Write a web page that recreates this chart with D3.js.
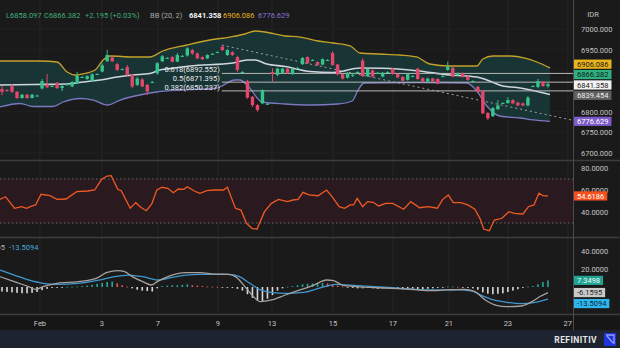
<!DOCTYPE html>
<html><head><meta charset="utf-8">
<script src="https://cdn.jsdelivr.net/npm/d3@7"></script>
<style>
html,body{margin:0;padding:0;background:#181818;overflow:hidden;}
svg{display:block;}
text{font-family:Roboto,"Noto Sans",sans-serif;}
</style></head><body>
<svg id="c" width="620" height="348"></svg>
<script>
// ---------- DATA ----------
const candleOpen = [6855,6852,6862,6848,6833,6841,6833,6839,6856,6866,
6862,6870,6857,6866,6861,6869,6884,6879,6874,6891,
6897,6922,6931,6915,6903,6908,6889,6865,6878,6865,
6872,6893,6922,6930,6932,6921,6935,6936,6949,6941,
6932,6929,6940,6944,6957,6937,6944,6932,6896,6874,
6836,6816,6820,6819,6896,6889,6894,6904,6891,6906,
6915,6932,6925,6920,6914,6925,6942,6914,6891,6882,
6889,6896,6924,6886,6900,6894,6885,6896,6904,6891,
6884,6877,6886,6904,6881,6873,6880,6879,6886,6901,
6906,6888,6893,6885,6874,6860,6850,6797,6789,6806,
6821,6821,6828,6822,6820,6815,6862,6860,6872,6862];
const candleHigh = [6862,6855,6867,6850,6843,6843,6843,6841,6879,6891,
6864,6872,6864,6868,6874,6896,6886,6888,6893,6893,
6917,6949,6934,6918,6905,6913,6891,6884,6881,6867,
6874,6920,6937,6932,6935,6942,6937,6956,6952,6943,
6934,6939,6942,6946,6961,6952,6946,6935,6898,6877,
6838,6818,6854,6821,6905,6906,6906,6906,6905,6908,
6932,6934,6927,6922,6929,6927,6946,6916,6893,6896,
6894,6898,6929,6905,6902,6896,6896,6898,6906,6893,
6886,6893,6888,6906,6883,6882,6882,6881,6888,6921,
6908,6895,6895,6887,6876,6862,6852,6799,6811,6828,
6823,6835,6830,6824,6822,6838,6864,6879,6874,6870];
const candleLow = [6840,6848,6845,6831,6831,6831,6832,6837,6854,6857,
6860,6855,6850,6864,6859,6867,6882,6877,6872,6889,
6895,6920,6920,6898,6901,6886,6857,6862,6859,6840,
6870,6889,6920,6928,6919,6920,6933,6933,6937,6927,
6925,6927,6938,6942,6947,6935,6935,6896,6894,6831,
6811,6800,6818,6817,6872,6886,6892,6891,6889,6904,
6913,6915,6923,6911,6912,6923,6911,6888,6878,6880,
6884,6894,6884,6884,6883,6892,6883,6894,6889,6881,
6873,6875,6884,6877,6871,6871,6872,6866,6884,6899,
6883,6886,6882,6875,6872,6846,6794,6780,6787,6804,
6819,6819,6818,6813,6813,6813,6860,6857,6860,6858.097];
const candleClose = [6848,6851,6848,6833,6841,6833,6841,6839,6874,6859,
6862,6857,6862,6866,6872,6887,6884,6886,6890,6891,
6912,6937,6922,6901,6903,6889,6861,6880,6861,6849,
6872,6917,6934,6930,6921,6937,6935,6953,6941,6929,
6927,6937,6940,6944,6949,6949,6937,6901,6896,6834,
6816,6804,6852,6819,6891,6904,6904,6893,6903,6906,
6930,6917,6925,6913,6927,6925,6913,6890,6880,6894,
6889,6896,6886,6903,6885,6894,6894,6896,6891,6883,
6875,6891,6886,6879,6873,6880,6874,6868,6886,6909,
6885,6893,6884,6877,6874,6848,6796,6784,6809,6815,
6821,6828,6820,6815,6815,6834,6862,6874,6862,6866.382];

// Bollinger bands: [slot, price]
const bbUpper = [[-0.4,6922.6],[7.6,6922.6],[11.0,6920.2],[13.0,6896.0],[14.6,6888.7],[16.0,6891.1],[18.6,6900.8],[20.2,6925.0],[21.6,6934.7],[26.1,6932.3],[29.5,6932.3],[32.1,6946.8],[36.9,6961.3],[41.5,6973.4],[45.5,6980.6],[48.5,6987.9],[50.5,6995.2],[52.5,6992.7],[56.5,6983.1],[59.5,6980.6],[63.1,6971.0],[66.1,6966.1],[69.5,6958.9],[71.5,6941.9],[75.4,6939.5],[79.4,6937.1],[82.8,6932.3],[85.4,6915.3],[89.4,6910.5],[94.8,6910.5],[96.0,6927.4],[98.0,6934.7],[101.4,6934.7],[104.4,6929.8],[106.8,6920.2],[109.4,6906.086]];
const bbMiddle = [[-0.4,6864.5],[6.2,6865.7],[13.0,6866.9],[16.2,6871.8],[19.6,6876.6],[23.0,6883.9],[26.1,6888.7],[29.5,6892.3],[31.5,6900.8],[32.9,6903.2],[37.5,6910.5],[46.1,6917.7],[48.9,6925.0],[50.5,6925.0],[52.9,6915.3],[56.5,6909.3],[61.5,6897.2],[66.1,6894.8],[71.5,6905.6],[76.0,6904.9],[82.8,6899.1],[89.4,6888.7],[94.8,6883.9],[96.8,6876.6],[100.0,6862.1],[102.8,6858.5],[109.4,6841.358]];
const bbLower = [[-0.4,6811.3],[3.6,6819.8],[6.2,6812.5],[10.2,6812.5],[12.2,6823.4],[15.6,6831.8],[18.2,6828.2],[21.0,6816.1],[23.6,6828.2],[27.5,6840.3],[30.9,6847.6],[36.1,6852.4],[42.9,6857.3],[46.5,6876.6],[47.5,6876.6],[49.1,6862.1],[51.9,6823.4],[56.5,6818.6],[61.5,6816.1],[67.1,6818.6],[69.9,6825.8],[71.1,6852.4],[72.3,6869.4],[82.8,6870.1],[92.8,6869.4],[94.8,6850.0],[96.8,6813.7],[99.4,6789.5],[103.4,6784.7],[106.0,6780.0],[109.4,6776.629]];

// Fibonacci retracement levels
const fibRatios = ["0.618","0.5","0.382"];
const fibValues = [6892.552, 6871.395, 6850.237];
const fibStartSlot = 43.9;
// dashed trend line [slot, price]
const trendLine = [[43.9,6961],[114,6779]];

// price axis
const priceTicks = [7000,6950,6800,6750,6700];
const priceGrid = [7000,6950,6900,6850,6800,6750,6700];
const lastValues = [6906.086, 6866.382, 6841.358, 6839.454, 6776.629];
const lastNames = ["upper","close","middle","prev","lower"];

// RSI [slot, value]
const rsiPoints = [[-0.4,51.5],[0.7,53.9],[2.5,43.4],[3.9,44.8],[4.9,43.4],[6.0,45.5],[6.7,46.4],[7.8,56.1],[9.6,54.8],[11.0,51.5],[12.8,51.8],[14.9,58.5],[17.1,59.1],[18.5,60.0],[19.9,69.7],[21.0,72.7],[21.8,73.0],[23.1,60.6],[23.8,59.4],[25.6,43.4],[26.7,48.5],[27.7,44.3],[28.8,41.2],[29.9,47.3],[30.9,60.0],[32.0,62.5],[33.1,61.5],[34.2,57.5],[35.2,60.9],[36.3,60.6],[37.0,63.0],[38.4,59.1],[39.5,57.0],[40.9,59.4],[42.4,60.0],[44.2,60.0],[45.0,62.5],[46.6,43.4],[47.7,41.8],[48.8,29.7],[49.9,25.2],[50.9,24.3],[52.4,40.3],[53.8,47.9],[55.2,51.5],[57.0,49.4],[58.1,50.9],[59.1,51.5],[60.1,57.9],[61.3,55.5],[63.1,54.8],[64.8,60.0],[65.9,53.9],[67.3,44.8],[68.4,43.4],[69.5,46.4],[70.2,46.4],[70.9,52.4],[72.0,44.8],[73.0,49.4],[74.1,48.8],[75.2,45.5],[76.6,47.9],[78.0,47.9],[80.2,42.5],[81.6,49.4],[83.4,43.9],[85.1,44.8],[86.9,43.4],[88.0,51.5],[89.1,55.5],[90.1,48.5],[91.6,48.5],[93.0,46.4],[94.4,42.5],[95.5,33.4],[96.2,24.3],[97.3,23.0],[98.3,32.7],[99.8,34.3],[101.2,40.3],[102.3,38.8],[104.0,38.2],[105.1,44.8],[106.2,46.4],[107.2,57.0],[108.1,54.6],[109.0,54.6186]];
const rsiTicks = [80,60,40];
const rsiBand = [70,30];

// MACD [slot, value]
const macdLine = [[-0.4,11.5],[2.45,5.9],[5.3,0.4],[6.7,-2.6],[8.15,0.4],[11.0,4.1],[15.3,5.9],[18.8,9.6],[21.0,16.3],[23.1,18.1],[24.5,17.0],[26.0,11.5],[28.1,5.9],[29.9,2.2],[31.0,5.9],[33.1,11.5],[36.7,15.9],[39.5,15.9],[42.4,14.4],[45.2,14.1],[46.6,11.5],[48.8,-1.5],[50.2,-10.7],[51.6,-16.3],[53.8,-14.4],[56.6,-8.9],[59.5,-3.3],[62.3,2.2],[64.8,7.8],[66.2,7.0],[68.0,2.2],[70.9,0.4],[74.4,-0.7],[78.0,-1.5],[81.6,-2.6],[85.1,-4.1],[88.7,-3.3],[92.3,-2.6],[94.4,-5.2],[96.5,-14.5],[98.7,-20.5],[100.8,-21.9],[103.7,-21.1],[105.8,-16.3],[107.6,-10.0],[109.0,-6.1595]];
const signalLine = [[-0.4,18.9],[2.45,13.3],[5.3,7.8],[8.15,4.1],[11.0,3.0],[15.3,4.1],[19.6,7.8],[22.4,11.5],[25.3,13.3],[28.1,11.5],[31.0,7.8],[33.8,10.4],[36.7,13.3],[39.5,14.1],[45.2,14.1],[47.4,11.5],[49.5,4.1],[51.6,-3.3],[53.8,-5.9],[56.6,-7.0],[60.2,-5.9],[63.7,-0.7],[66.6,3.0],[70.9,1.5],[78.0,-0.7],[85.1,-3.3],[90.8,-3.3],[93.7,-4.4],[95.8,-9.5],[98.0,-14.0],[100.8,-17.0],[103.7,-18.5],[106.5,-17.0],[109.0,-13.5094]];
const macdHist = [-5,-5.5,-6,-6.5,-7,-7,-6.5,-5.5,-3.5,-2,
-1,-0.5,-0.3,0.2,0.3,0.6,1,1.5,2.5,3.5,
4.5,5.5,6,4,2,0.5,-1.5,-3,-4,-4.5,
-5,-1.5,1,1.5,2,2,2.5,3,2,1.5,
1,0.5,0.3,0.2,-0.3,-0.5,-1,-2,-4,-8,
-12,-15,-16,-13,-9,-4,-1.5,0.3,1,2,
3,3.5,4,4.5,4.5,4,3,1.5,0.5,-0.5,
-1,-1.5,-1.5,-1,-1.5,-2,-1.5,-1.5,-2,-2,
-2.5,-2,-2,-2.5,-2.5,-2,-1.5,-1,-0.5,0.5,
0.5,0.3,-0.5,-1,-1.5,-3,-6,-7.5,-8,-7.5,
-7,-5.5,-4,-2.5,-1,0.5,1,3,5.5,7.3498];
const macdTicks = [40,20];
const macdLast = [7.3498, -6.1595, -13.5094];

// x axis
const xTickLabels = ["Feb","3","7","9","13","15","17","21","23","27"];
const xTickSlots = [7.58,19.96,31.14,43.11,53.89,66.07,78.04,89.22,101.0,112.97];

// ---------- CHART ----------
const svg = d3.select('#c');
const AX = 573;
const x = d3.scaleLinear().domain([-0.4,114]).range([0,AX]);
const yP = d3.scaleLinear().domain([6700,7000]).range([153,29]);
const yR = d3.scaleLinear().domain([40,80]).range([212,168]);
const yM = d3.scaleLinear().domain([0,40]).range([287,251]);

svg.append('rect').attr('width',620).attr('height',348).attr('fill','#1a1a1a');
svg.append('rect').attr('y',315).attr('width',620).attr('height',15).attr('fill','#161616');
svg.append('rect').attr('y',330).attr('width',620).attr('height',18).attr('fill','#1e2330');

const defs = svg.append('defs');
[['cm',0,160],['cr',161,76],['cd',238,76]].forEach(([id,y0,h])=>{
  defs.append('clipPath').attr('id',id).append('rect').attr('x',0).attr('y',y0).attr('width',AX).attr('height',h);
});

// vertical grid
svg.append('g').selectAll('line').data(xTickSlots).join('line')
  .attr('x1',d=>x(d)).attr('x2',d=>x(d)).attr('y1',0).attr('y2',314)
  .attr('stroke','#262626').attr('stroke-width',1);

// main panel
const gM = svg.append('g').attr('clip-path','url(#cm)');
gM.selectAll('line.hg').data(priceGrid).join('line').attr('class','hg')
  .attr('x1',0).attr('x2',AX).attr('y1',d=>yP(d)).attr('y2',d=>yP(d)).attr('stroke','#212121');

const lineP = d3.line().x(d=>x(d[0])).y(d=>yP(d[1])).curve(d3.curveMonotoneX);
const lineLin = d3.line().x(d=>x(d[0])).y(d=>yP(d[1]));
const fillPts = bbUpper.concat(bbLower.slice().reverse());
gM.append('path').attr('d', lineLin(fillPts)+'Z').attr('fill','#183434');
gM.append('path').attr('d',lineP(bbUpper)).attr('fill','none').attr('stroke','#c4a22a').attr('stroke-width',1.3);
gM.append('path').attr('d',lineP(bbLower)).attr('fill','none').attr('stroke','#7c78c0').attr('stroke-width',1.3);
gM.append('path').attr('d',lineP(bbMiddle)).attr('fill','none').attr('stroke','#cfd6de').attr('stroke-width',1.6);

// fib lines
fibValues.forEach((v,i)=>{
  gM.append('line').attr('x1',x(fibStartSlot)).attr('x2',AX).attr('y1',yP(v)).attr('y2',yP(v))
    .attr('stroke','#b8b8b8').attr('stroke-width',1);
  gM.append('text').attr('x',x(fibStartSlot)-2).attr('y',yP(v)-1).attr('text-anchor','end')
    .attr('font-size',7.5).attr('fill','#ececec').text(fibRatios[i]+'('+v.toFixed(3)+')');
});
// trend line
gM.append('path').attr('d',lineLin(trendLine)).attr('stroke','#a0a0a0').attr('stroke-width',1)
  .attr('stroke-dasharray','2,3').attr('fill','none');

// candles
const N = candleOpen.length;
const up = '#35c48b', dn = '#e3486c';
const col = i => candleClose[i] >= candleOpen[i] ? up : dn;
const cw = 3.4;
gM.selectAll('line.wick').data(d3.range(N)).join('line').attr('class','wick')
  .attr('x1',i=>x(i)).attr('x2',i=>x(i)).attr('y1',i=>yP(candleHigh[i])).attr('y2',i=>yP(candleLow[i]))
  .attr('stroke',col).attr('stroke-width',1);
gM.selectAll('rect.body').data(d3.range(N)).join('rect').attr('class','body')
  .attr('x',i=>x(i)-cw/2).attr('width',cw)
  .attr('y',i=>yP(Math.max(candleOpen[i],candleClose[i])))
  .attr('height',i=>Math.max(1,Math.abs(yP(candleOpen[i])-yP(candleClose[i]))))
  .attr('fill',col);

// RSI panel
const gR = svg.append('g').attr('clip-path','url(#cr)');
gR.append('rect').attr('x',0).attr('width',AX).attr('y',yR(rsiBand[0])).attr('height',yR(rsiBand[1])-yR(rsiBand[0])).attr('fill','#2a1a1f');
rsiBand.forEach(v=>gR.append('line').attr('x1',0).attr('x2',AX).attr('y1',yR(v)).attr('y2',yR(v))
  .attr('stroke','#6a6a6a').attr('stroke-dasharray','1.5,2.5'));
const lineR = d3.line().x(d=>x(d[0])).y(d=>yR(d[1]));
gR.append('path').attr('d',lineR(rsiPoints)).attr('fill','none').attr('stroke','#f05a22').attr('stroke-width',1.3);

// MACD panel
const gD = svg.append('g').attr('clip-path','url(#cd)');
gD.selectAll('rect.h').data(d3.range(macdHist.length)).join('rect').attr('class','h')
  .attr('x',i=>x(i)-0.8).attr('width',1.6)
  .attr('y',i=>Math.min(yM(0),yM(macdHist[i])))
  .attr('height',i=>Math.max(0.8,Math.abs(yM(macdHist[i])-yM(0))))
  .attr('fill',i=>{const v=macdHist[i];const p=i>0?macdHist[i-1]:v; if(v<0) return '#d8d8d8'; return v>=p?'#26a69a':'#e35a4a';});
const lineM = d3.line().x(d=>x(d[0])).y(d=>yM(d[1])).curve(d3.curveMonotoneX);
gD.append('path').attr('d',lineM(signalLine)).attr('fill','none').attr('stroke','#3f97cf').attr('stroke-width',1.3);
gD.append('path').attr('d',lineM(macdLine)).attr('fill','none').attr('stroke','#a8a19c').attr('stroke-width',1.3);

// separators
[160.5,237.5,314.5].forEach(y=>svg.append('line').attr('x1',0).attr('x2',620).attr('y1',y).attr('y2',y).attr('stroke','#3d3d3d').attr('stroke-width',1.5));
svg.append('line').attr('x1',AX+0.5).attr('x2',AX+0.5).attr('y1',0).attr('y2',330).attr('stroke','#4a4a4a').attr('stroke-width',1);

// axis labels
const tickFont = 7.5, tickCol = '#c4c4c4';
svg.append('text').attr('x',593).attr('y',17).attr('text-anchor','middle').attr('font-size',tickFont).attr('fill',tickCol).text('IDR');
svg.selectAll('text.pt').data(priceTicks).join('text').attr('class','pt')
  .attr('x',581).attr('y',d=>yP(d)+3).attr('font-size',tickFont).attr('fill',tickCol).text(d=>d.toFixed(3));
svg.selectAll('text.rt').data(rsiTicks).join('text').attr('class','rt')
  .attr('x',581).attr('y',d=>yR(d)+3).attr('font-size',tickFont).attr('fill',tickCol).text(d=>d.toFixed(4));
svg.selectAll('text.mt').data(macdTicks).join('text').attr('class','mt')
  .attr('x',581).attr('y',d=>yM(d)+3).attr('font-size',tickFont).attr('fill',tickCol).text(d=>d.toFixed(4));
svg.selectAll('text.xt').data(xTickSlots).join('text').attr('class','xt')
  .attr('x',d=>x(d)).attr('y',326).attr('text-anchor','middle').attr('font-size',tickFont).attr('fill',tickCol)
  .text((d,i)=>xTickLabels[i]);

// value boxes
function box(yc, txt, bg, fg){
  const g = svg.append('g');
  const t = g.append('text').attr('x',576).attr('y',yc+2.7).attr('font-size',7.5).attr('fill',fg).text(txt);
  const w = t.node().getComputedTextLength()+6;
  g.insert('rect','text').attr('x',AX+1).attr('y',yc-4.6).attr('width',w).attr('height',9.2).attr('fill',bg);
  t.attr('x',AX+1+w/2).attr('text-anchor','middle');
}
function stack(items, dir, gap){
  items.sort((a,b)=>a.y-b.y);
  if(dir<0){ for(let i=items.length-2;i>=0;i--) if(items[i].y>items[i+1].y-gap) items[i].y=items[i+1].y-gap; }
  else { for(let i=1;i<items.length;i++) if(items[i].y<items[i-1].y+gap) items[i].y=items[i-1].y+gap; }
  return items;
}
const mainStyles = {upper:['#e8b31c','#1a1a1a'],close:['#2fb07e','#10201a'],middle:['#f2f2f2','#1a1a1a'],prev:['#5e5e5e','#eeeeee'],lower:['#7d5bc8','#ffffff']};
stack(lastValues.map((v,i)=>({v,y:yP(v),k:lastNames[i]})),-1,10.4)
  .forEach(d=>box(d.y,d.v.toFixed(3),mainStyles[d.k][0],mainStyles[d.k][1]));
const lastRsi = rsiPoints[rsiPoints.length-1][1];
box(yR(lastRsi), lastRsi.toFixed(4), '#f4511e', '#ffffff');
const macdStyles = [['#22a392','#e8fff9'],['#c9c9c9','#222222'],['#2cb6ee','#0d2230']];
stack(macdLast.map((v,i)=>({v,y:yM(v),s:macdStyles[i]})),1,11)
  .forEach(d=>box(d.y,d.v.toFixed(4),d.s[0],d.s[1]));

// legends
const lg = [[6,'L6858.097','#3fae7c',false],[44,'C6866.382','#3fae7c',false],[85,'+2.195 (+0.03%)','#3fae7c',false],
  [150,'BB (20, 2)','#a8a8a8',false],[189,'6841.358','#f2f2f2',true],[223,'6906.086','#e8b31c',false],[258,'6776.629','#8d72d8',false]];
lg.forEach(([xx,t,c,b])=>svg.append('text').attr('x',xx).attr('y',18).attr('font-size',7.5).attr('fill',c)
  .attr('font-weight',b?'bold':'normal').text(t));
svg.append('text').attr('x',5).attr('y',250).attr('text-anchor','end').attr('font-size',7.5).attr('fill','#b0b0b0').text('-6.1595');
svg.append('text').attr('x',9).attr('y',250).attr('font-size',7.5).attr('fill','#4aa6dc').text('-13.5094');

// footer
svg.append('text').attr('x',597).attr('y',343).attr('text-anchor','end').attr('font-size',8.5).attr('font-weight','bold')
  .attr('letter-spacing',0.4).attr('fill','#e6e6e6').text('REFINITIV');
svg.append('rect').attr('x',604).attr('y',333).attr('width',12).attr('height',13).attr('fill','#2233d8');
svg.append('path').attr('d','M606,335 L614,335 L614,344 M607,336 L613,343').attr('stroke','#8fa0ff').attr('stroke-width',1.3).attr('fill','none');
</script>
</body></html>
